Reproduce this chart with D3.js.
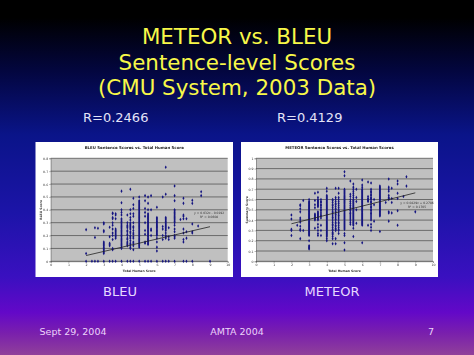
<!DOCTYPE html>
<html><head><meta charset="utf-8">
<script src="https://cdn.jsdelivr.net/npm/d3@7"></script>
<style>html,body{margin:0;padding:0;background:#000;overflow:hidden}svg{display:block}text{font-family:"DejaVu Sans",sans-serif}</style>
</head><body><svg id="c" width="474" height="355"></svg>
<script>
const titleLines=["METEOR vs. BLEU","Sentence-level Scores","(CMU System, 2003 Data)"];
const humanScores=[2,2.33,2.5,2.67,3,3.33,3.5,3.67,4,4.33,4.5,4.67,5,5.33,5.5,5.67,6,6.33,6.5,6.67,7,7.33,7.5,7.67,8,8.33,8.5,9];
const xTicks=[0,1,2,3,4,5,6,7,8,9,10];
const bleuTicks=[0,.1,.2,.3,.4,.5,.6,.7,.8];
const meteorTicks=[0,.1,.2,.3,.4,.5,.6,.7,.8,.9,1];
const bleuScores=[
[0,.06,.246],[0],[0,.185,.26],[0,.256],
[0,.06,.07,.08,.09,.1,.11,.12,.13,.14,.15,.23,.24,.29,.3],
[0,.12,.13,.14,.19,.265],
[0,.09,.1,.17,.2,.22,.25,.28,.3,.33,.34,.37,.375],
[0,.18,.19,.2,.21,.22,.23,.24,.25,.33,.36,.37],
[0,.1,.11,.12,.13,.14,.15,.16,.17,.18,.19,.2,.21,.22,.23,.24,.25,.26,.27,.28,.29,.3,.31,.32,.33,.36,.38,.4,.455,.545],
[0,.12,.13,.14,.15,.17,.18,.2,.21,.23,.24,.26,.27,.28,.3,.36],
[0,.1,.11,.13,.14,.16,.18,.19,.2,.22,.23,.25,.26,.27,.28,.29,.3,.32,.34,.37,.4,.56],
[0,.09,.12,.14,.15,.18,.19,.21,.22,.24,.26,.27,.3,.35,.37,.41,.44,.49],
[0,.11,.12,.13,.14,.15,.16,.17,.18,.19,.2,.21,.22,.23,.24,.25,.26,.27,.28,.29,.3,.31,.32,.33,.34,.35,.36,.37,.38,.39,.4,.41,.42,.43,.44,.45,.46,.47,.5],
[0,.14,.15,.21,.24,.3,.35,.38,.41,.47,.51],
[0,.13,.14,.15,.16,.17,.18,.19,.2,.21,.22,.23,.24,.25,.26,.27,.28,.29,.3,.31,.32,.33,.34,.35,.36,.37,.4,.45,.5],
[0,.2,.24,.25,.4,.51],
[0,.08,.11,.15,.18,.2,.21,.22,.23,.24,.25,.26,.27,.28,.29,.3,.31,.32,.33,.34,.42],
[0,.17,.2,.25,.27,.5],
[0,.18,.19,.2,.22,.24,.25,.26,.27,.28,.29,.3,.31,.32,.33,.34,.52,.73],
[0,.17,.19,.26],
[0,.18,.19,.2,.23,.25,.28,.3,.31,.32,.33,.34,.35,.36,.37,.38,.39,.4,.47,.51,.585],
[.325],
[0,.15,.17,.22,.25,.33,.35,.36,.45,.49],
[0,.18,.23,.33],
[0,.22,.23,.29,.45,.475],
[.275],
[.51,.54],
[0]];
const meteorScores=[
[.25,.3,.31,.41,.45],[.35],
[.22,.3,.31,.34,.38,.4,.42,.48,.51,.54,.55],[.3,.59],
[.12,.13,.14,.15,.2,.25,.26,.27,.28,.29,.3,.31,.32,.33,.34,.35,.36,.37,.38,.39,.4,.41,.42,.43,.44,.45,.46,.47,.48,.49,.5,.51,.52,.53,.54,.55,.56,.57,.58,.6],
[.32,.4,.41,.42,.43,.44,.45,.46,.52,.55,.59,.66],
[.25,.27,.3,.33,.36,.4,.41,.42,.43,.44,.45,.46,.47,.48,.53,.54,.55,.56,.57,.58,.59,.6,.62,.67],
[.25,.3,.35,.42,.44,.45,.47,.49,.5,.52,.54,.55,.57,.58,.6],
[.2,.22,.24,.25,.26,.27,.28,.29,.3,.31,.32,.33,.34,.35,.36,.37,.38,.39,.4,.41,.42,.43,.44,.45,.46,.47,.48,.49,.5,.51,.52,.53,.54,.55,.56,.57,.58,.59,.6,.61,.62,.63,.64,.68,.71],
[.17,.22,.24,.26,.27,.28,.3,.31,.33,.35,.36,.38,.4,.42,.43,.45,.47,.48,.5,.52,.54,.55,.57,.59,.6],
[.17,.22,.3,.31,.32,.34,.35,.37,.38,.4,.41,.43,.45,.46,.48,.5,.51,.53,.55,.56,.58,.6,.62,.71],
[.27,.3,.31,.33,.35,.37,.38,.4,.42,.44,.45,.47,.49,.5,.52,.54,.56,.58,.6,.62,.66,.71],
[.11,.18,.25,.27,.31,.32,.33,.34,.35,.36,.37,.38,.39,.4,.41,.42,.43,.44,.45,.46,.47,.48,.49,.5,.51,.52,.53,.54,.55,.56,.57,.58,.59,.6,.61,.62,.63,.64,.65,.66,.67,.68,.69,.7,.83,.87],
[.36,.38,.4,.42,.44,.46,.47,.49,.5,.52,.54,.56,.58,.6,.63,.65,.78],
[.24,.32,.35,.36,.37,.38,.39,.4,.41,.42,.43,.44,.45,.46,.47,.48,.49,.5,.51,.52,.53,.54,.55,.56,.57,.58,.59,.6,.62,.64,.66,.68,.7,.72,.75],
[.37,.5,.58,.62,.7],
[.18,.35,.36,.37,.38,.39,.4,.41,.42,.43,.44,.45,.46,.47,.48,.49,.5,.51,.52,.53,.54,.55,.56,.57,.58,.59,.6,.61,.62,.63,.64,.65,.66,.67,.68,.69,.7,.72,.74,.79],
[.35,.58,.59,.6,.61,.63,.77],
[.3,.33,.36,.4,.42,.44,.46,.47,.49,.5,.52,.53,.55,.57,.58,.6,.61,.62,.64,.65,.67,.68,.7,.76],
[.39,.55,.6],
[.29,.44,.45,.46,.47,.48,.49,.5,.51,.52,.53,.54,.55,.56,.57,.58,.59,.6,.61,.62,.63,.64,.65,.66,.67,.68,.69,.7,.71,.72,.73],
[.57],
[.39,.47,.48,.6,.61,.62,.64,.68,.7,.72,.8],
[.47,.57,.61,.71],
[.35,.49,.61,.66,.75,.78],
[.63],
[.73,.82],
[.48]];
const bleuFit={slope:.032,intercept:-.0192,from:2,to:9};
const meteorFit={slope:.0429,intercept:.2786,from:2,to:9};

const svg=d3.select("#c");
const defs=svg.append("defs");
const grad=defs.append("linearGradient").attr("id","bg").attr("x1",0).attr("x2",0).attr("y1",0).attr("y2",1);
[[0,"#000000"],[.05,"#000000"],[.2,"#03063f"],[.38,"#0a1489"],[.6,"#1c14a8"],[.78,"#3a10c0"],[.88,"#6308c8"],[.94,"#7a20ac"],[1,"#90409a"]]
 .forEach(([o,c])=>grad.append("stop").attr("offset",o).attr("stop-color",c));
defs.append("filter").attr("id","soft").append("feGaussianBlur").attr("stdDeviation",.4);
svg.append("rect").attr("width",474).attr("height",355).attr("fill","url(#bg)");

titleLines.forEach((t,i)=>svg.append("text").attr("x",237).attr("y",[44,70,95][i]).attr("text-anchor","middle")
 .attr("font-size",21.4).attr("fill","#f8f848").text(t));
[["R=0.2466",83,122],["R=0.4129",277,122]].forEach(([t,x,y])=>svg.append("text").attr("x",x).attr("y",y)
 .attr("font-size",13).attr("fill","#e4e4f8").text(t));
[["BLEU",120,296],["METEOR",332,296]].forEach(([t,x,y])=>svg.append("text").attr("x",x).attr("y",y)
 .attr("text-anchor","middle").attr("font-size",13).attr("fill","#e8d8ff").text(t));
[["Sept 29, 2004",73],["AMTA 2004",237],["7",431]].forEach(([t,x])=>svg.append("text").attr("x",x).attr("y",335)
 .attr("text-anchor","middle").attr("font-size",9.5).attr("fill","#ecd4fa").text(t));

function chart(o){
 const g=svg.append("g").attr("filter","url(#soft)");
 g.append("rect").attr("x",o.px).attr("y",142).attr("width",o.pw).attr("height",135).attr("fill","#fff");
 const x=d3.scaleLinear().domain([0,10]).range([o.x0,o.x0+177]);
 const y=d3.scaleLinear().domain([0,o.ymax]).range([261.3,158.3]);
 g.append("rect").attr("x",x(0)).attr("y",y(o.ymax)).attr("width",177).attr("height",103).attr("fill","#c0c0c0");
 g.append("g").selectAll("line").data(o.yTicks).join("line").attr("x1",x(0)).attr("x2",x(10))
  .attr("y1",d=>y(d)).attr("y2",d=>y(d)).attr("stroke","#555").attr("stroke-width",.8);
 const ax=g.append("g").attr("transform","translate(0,261.3)").call(d3.axisBottom(x).tickValues(xTicks).tickSize(1.5).tickPadding(1).tickFormat(d3.format("d")));
 const ay=g.append("g").attr("transform",`translate(${x(0)},0)`).call(d3.axisLeft(y).tickValues(o.yTicks).tickSize(1.5).tickPadding(1).tickFormat(d=>d));
 [ax,ay].forEach(a=>{a.selectAll("text").attr("font-size",3.2).attr("fill","#333");a.selectAll("line,path").attr("stroke","#444").attr("stroke-width",.4);});
 const pts=o.values.flatMap((col,i)=>col.map(v=>[humanScores[i],v]));
 g.append("g").selectAll("path").data(pts).join("path")
  .attr("d",d3.symbol(d3.symbolDiamond,3.6))
  .attr("transform",d=>`translate(${x(d[0])},${y(d[1])})`).attr("fill","#141480");
 const f=o.fit;
 g.append("line").attr("x1",x(f.from)).attr("x2",x(f.to)).attr("y1",y(f.slope*f.from+f.intercept)).attr("y2",y(f.slope*f.to+f.intercept))
  .attr("stroke","#222").attr("stroke-width",.8);
 g.append("text").attr("x",o.px+o.pw/2).attr("y",149).attr("text-anchor","middle").attr("font-size",3.9).attr("font-weight","bold").attr("fill","#222").text(o.title);
 g.append("text").attr("x",x(5)).attr("y",272).attr("text-anchor","middle").attr("font-size",3.1).attr("font-weight","bold").attr("fill","#333").text("Total Human Score");
 g.append("text").attr("transform",`translate(${o.x0-8.5},${y(o.ymax/2)}) rotate(-90)`).attr("text-anchor","middle").attr("font-size",3.1).attr("font-weight","bold").attr("fill","#333").text(o.yLabel);
 o.eq.forEach((t,i)=>g.append("text").attr("x",x(o.eqX)).attr("y",y(o.eqY)+i*4.2).attr("text-anchor","middle").attr("font-size",3).attr("fill","#333").text(t));
}
chart({px:35.5,pw:197.5,x0:50.7,ymax:.8,yTicks:bleuTicks,values:bleuScores,fit:bleuFit,title:"BLEU Sentence Scores vs. Total Human Score",yLabel:"BLEU Score",eq:["y = 0.032x - 0.0192","R² = 0.0608"],eqX:8.95,eqY:.37});
chart({px:241,pw:197,x0:256,ymax:1,yTicks:meteorTicks,values:meteorScores,fit:meteorFit,title:"METEOR Sentence Scores vs. Total Human Scores",yLabel:"Summary Score",eq:["y = 0.0429x + 0.2786","R² = 0.1705"],eqX:9.1,eqY:.56});
</script></body></html>
